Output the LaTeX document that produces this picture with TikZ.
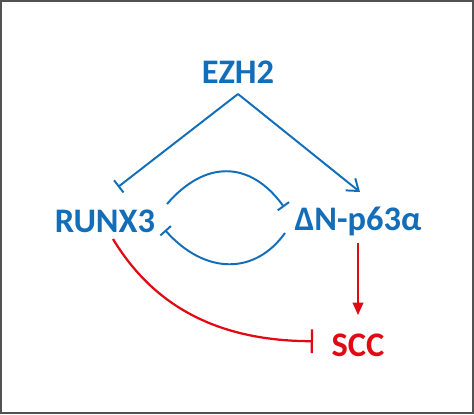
\documentclass[tikz,border=0pt]{standalone}
\usepackage{fontspec}
\setmainfont{Carlito}
\usetikzlibrary{arrows.meta}
\definecolor{netblue}{RGB}{18,110,185}
\definecolor{netred}{RGB}{225,10,20}
\begin{document}
\begin{tikzpicture}[gene/.style={font=\fontsize{24.5}{29}\selectfont\bfseries,inner sep=0pt},
    act/.style={netblue,line width=1.4pt,-{Straight Barb[length=7.5pt,width=11pt,line width=1.4pt]}},
    inh/.style={netblue,line width=1.4pt,-{Bar[width=10pt,line width=1.4pt]}}]

    \useasboundingbox (0,0) rectangle (11.85,-10.35);
    \draw[black!68,line width=1.4pt] (0.025,-0.025) rectangle (11.825,-10.325);

    \node[gene,netblue] (ezh2) at (5.95,-1.8) {EZH2};
    \node[gene,netblue] (runx3) at (2.625,-5.525) {RUNX3};
    \node[gene,netblue] (p63) at (8.95,-5.525) {ΔN-p63α};
    \node[gene,netred] (scc) at (8.95,-8.63) {SCC};
    \coordinate (top) at (5.95,-2.35);

    \draw[inh,-{Bar[width=11pt,line width=1.4pt]}] (top) -- ([shift={(0.325,0.85)}]runx3.center);
    \draw[act] (top) -- ([shift={(0.05,0.725)}]p63.center);
    \draw[inh] ([shift={(1.55,0.425)}]runx3.center) .. controls (5.125,-4.0) and (6.25,-4.0) .. ([shift={(-1.85,0.35)}]p63.center);
    \draw[inh] ([shift={(-1.825,-0.3)}]p63.center) .. controls (6.375,-6.875) and (5.125,-6.875) .. ([shift={(1.5,-0.225)}]runx3.center);
    \draw[netred,line width=1.6pt,-{Triangle[length=9pt,width=7.5pt]}] ([yshift=-0.55cm]p63.center) -- ([yshift=0.75cm]scc.center);
    \draw[netred,line width=1.6pt,-{Bar[width=17pt,line width=1.6pt]}] ([shift={(0.2,-0.45)}]runx3.center) .. controls (3.75,-7.5) and (5.25,-8.525) .. ([shift={(-1.125,0.1)}]scc.center);
\end{tikzpicture}
\end{document}
